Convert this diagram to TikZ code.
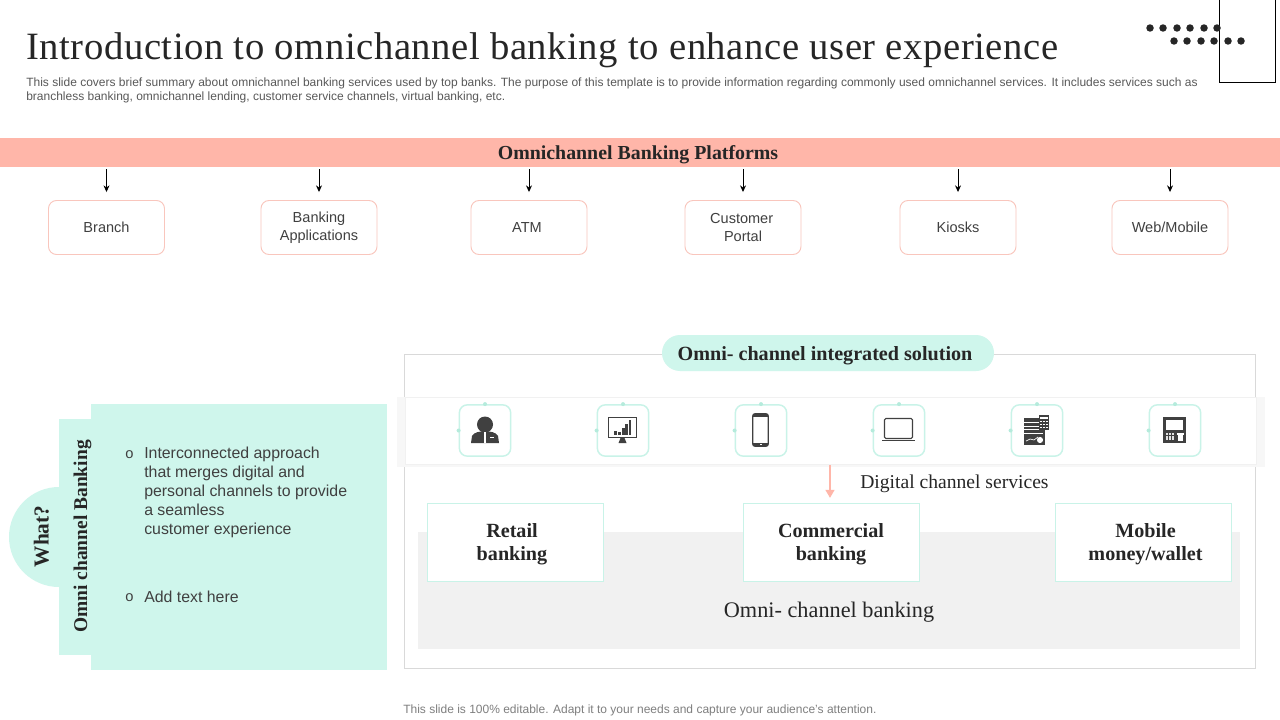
\documentclass[tikz,border=0pt]{standalone}
\usepackage{fontspec}
\setmainfont{Liberation Sans}
\newfontfamily\serifx{Liberation Serif}
\newfontfamily\titlefont[LetterSpace=1.45]{Liberation Serif}
\usetikzlibrary{arrows.meta}
\definecolor{mint}{HTML}{CFF6EC}
\definecolor{mintline}{HTML}{C9F3E8}
\definecolor{mintdot}{HTML}{B5EBDC}
\definecolor{peach}{HTML}{FFB6A9}
\definecolor{peachline}{HTML}{F9C6BD}
\definecolor{ink}{HTML}{404040}
\definecolor{introgray}{HTML}{595959}
\definecolor{dark}{HTML}{262626}
\definecolor{softgray}{HTML}{F1F1F1}
\definecolor{framegray}{HTML}{D9D9D9}
\definecolor{shadowgray}{HTML}{F7F7F7}
\definecolor{notegray}{HTML}{7F7F7F}
\newcommand{\bankstrut}{\rule{0pt}{13.5pt}}
\tikzset{
  x=0.75pt,y=-0.75pt,
  platform/.style={draw=peachline,line width=0.7pt,rounded corners=6pt,fill=white,minimum width=87pt,minimum height=40.5pt,inner sep=0pt,align=center,text=ink,font=\fontsize{10.9}{13.5}\selectfont},
  iconbox/.style={draw=mintline,line width=1.1pt,rounded corners=6pt,fill=white,minimum width=38.5pt,minimum height=38.5pt,inner sep=0pt},
  bankbox/.style={draw=mintline,line width=0.6pt,fill=white,minimum width=132pt,minimum height=58.5pt,inner sep=0pt,align=center,text=dark,font=\serifx\bfseries\fontsize{15.1}{17.2}\selectfont},
  downarrow/.style={-{Stealth[length=5pt,width=4.5pt]},line width=0.75pt,black},
}
\begin{document}
\begin{tikzpicture}
\useasboundingbox (0,0) rectangle (1280,720);
\fill[white] (0,0) rectangle (1280,720);
% corner decoration
\draw[black,line width=0.6pt] (1219,-2) -- (1219,82) -- (1275.5,82) -- (1275.5,-2);
\foreach \px in {1150,1163,1177,1190,1204,1217} \fill[dark] (\px,28) circle (2.8pt);
\foreach \px in {1174,1187,1201,1214,1228,1241} \fill[dark] (\px,41) circle (2.8pt);
% title
\node[anchor=west,inner sep=0pt,text=dark,font=\titlefont\fontsize{29}{32}\selectfont] (title) at (26,50) {Introduction to omnichannel banking to enhance user experience};
\node[anchor=north west,inner sep=0pt,align=left,text=introgray,font=\fontsize{9}{10.5}\selectfont] (intro) at (26,77.5) {This slide covers brief summary about omnichannel banking services used by top banks. The purpose of this template is to provide information regarding commonly used omnichannel services. It includes services such as\\branchless banking, omnichannel lending, customer service channels, virtual banking, etc.};
% platforms
\node[fill=peach,minimum width=960pt,minimum height=21.75pt,inner sep=0pt] (band) at (640,152.5) {};
\node[inner sep=0pt,text=dark,font=\serifx\bfseries\fontsize{14.9}{17}\selectfont] (bandtext) at (638,155) {Omnichannel Banking Platforms};
\node[platform] (p1) at (106.5,227.5) {Branch};
\node[platform] (p2) at (319,227.5) {Banking\\Applications};
\node[platform] (p3) at (529,227.5) {ATM\hspace*{3pt}};
\node[platform] (p4) at (743,227.5) {Customer\hspace*{2pt}\\Portal};
\node[platform] (p5) at (958,227.5) {Kiosks};
\node[platform] (p6) at (1170,227.5) {Web/Mobile};
\foreach \n in {1,...,6} {
  \coordinate (s\n) at (band.south -| p\n);
  \draw[downarrow] ([yshift=-1.5pt]s\n) -- ([yshift=6pt]p\n.north);
}
% integrated solution frame
\node[draw=framegray,line width=0.75pt,fill=white,minimum width=638pt,minimum height=235.5pt,inner sep=0pt] (frame) at (829.75,511) {};
\fill[shadowgray] (397,397) rectangle (1265,467);
\node[fill=white,draw=softgray,line width=0.5pt,minimum width=638.25pt,minimum height=50.5pt,inner sep=0pt] (strip) at (830.5,431) {};
\node[fill=mint,rounded corners=13.5pt,minimum width=249pt,minimum height=27pt,inner sep=0pt] (pill) at (828,353) {};
\node[inner sep=0pt,text=dark,font=\serifx\bfseries\fontsize{15.1}{17}\selectfont] (pilltext) at (825,356) {Omni- channel integrated solution};
% grey banking area
\node[fill=softgray,minimum width=616.5pt,minimum height=87.75pt,inner sep=0pt] (area) at (829,590.5) {};
\node[inner sep=0pt,text=dark,font=\serifx\fontsize{16.7}{19}\selectfont] (arealabel) at (829,612) {Omni- channel banking};
\node[bankbox] (b1) at (515,542) {\bankstrut Retail\hspace*{4.5pt}\\banking\hspace*{4.5pt}};
\node[bankbox] (b2) at (831,542) {\bankstrut Commercial\\banking};
\node[bankbox] (b3) at (1143.5,542) {\bankstrut\hspace*{3pt}Mobile\\\hspace*{3pt}money/wallet};
\draw[-{Triangle[length=6pt,width=6.5pt]},peach,line width=2.2pt] (strip.south -| b2) ++(-1,0) -- ([xshift=-0.75pt,yshift=3.5pt]b2.north);
\node[anchor=west,inner sep=0pt,text=dark,font=\serifx\fontsize{14.7}{17}\selectfont] (digital) at (860,483.5) {Digital channel services};
% icon boxes
\foreach \n/\cx in {1/485,2/623,3/761,4/899,5/1037,6/1175} {
  \node[iconbox] (i\n) at (\cx,430.5) {};
  \fill[mintdot] (i\n.north) circle (1.5pt);
  \fill[mintdot] (i\n.west) circle (1.5pt);
}
% person
\fill[ink] (485,424.5) circle (6pt);
\fill[ink] (471,443) -- (472,436) .. controls (474,432) and (480,431.5) .. (485,431) .. controls (490,431.5) and (496,432) .. (498,436) -- (499,443) -- cycle;
\fill[white] (484.2,432) -- (485.8,432) -- (486,443) -- (484,443) -- cycle;
\fill[white] (489.5,437) rectangle (494,438);
% presentation
\draw[ink,line width=0.6pt,fill=white] (608.5,417.5) rectangle (636.5,437);
\draw[ink,line width=0.9pt] (608.5,437.5) -- (636.5,437.5);
\fill[ink] (614,431) rectangle (617,434.5);
\fill[ink] (618,432) rectangle (621,434.5);
\fill[ink] (621.5,428) rectangle (624.5,434.5);
\fill[ink] (625,424) rectangle (628,434.5);
\fill[ink] (628.5,420) rectangle (631,434.5);
\fill[ink] (620.5,438) -- (624.5,438) -- (626.5,443) -- (618.5,443) -- cycle;
% phone
\draw[ink,line width=0.9pt,fill=white,rounded corners=1.5pt] (752.8,413.8) rectangle (768.2,446.2);
\fill[ink] (752.8,413.8) rectangle (768.2,416.8);
\fill[ink] (752.8,443) rectangle (768.2,446.2);
\fill[white] (759.5,444) rectangle (761.5,445.4);
% laptop
\draw[ink,line width=0.8pt,fill=white,rounded corners=1pt] (884.5,418.5) rectangle (912.5,438.5);
\fill[ink] (882,439.5) rectangle (915,441);
% statement + calculator
\fill[ink] (1024,418) rectangle (1045,444.5);
\foreach \ry in {422,425.5,429,432.5} \fill[white] (1024,\ry) rectangle (1043,\ry+0.7);
\draw[white,line width=0.5pt] (1026,441) -- (1030,439) -- (1034,440) -- (1038,437);
\fill[white] (1040,440) circle (2.3pt);
\fill[ink] (1038.5,415) rectangle (1049,430);
\fill[white] (1040,416.5) rectangle (1047.5,418.5);
\foreach \ry in {420.5,423.5,426.5} \foreach \rx in {1040,1043,1046} \fill[white] (\rx,\ry) rectangle (\rx+1.6,\ry+1.6);
% ATM
\fill[ink] (1163,417) rectangle (1186,443);
\fill[white] (1166,420) rectangle (1183,430);
\fill[white] (1177,433) rectangle (1184,435);
\fill[white] (1178,435) rectangle (1183,440.5);
\foreach \ry in {433,435.7,438.3} \foreach \rx in {1166,1169,1172} \fill[white!85!ink] (\rx,\ry) rectangle (\rx+2,\ry+1.8);
% left panel
\fill[mint] (59,537) circle (37.5pt);
\node[fill=mint,minimum width=222pt,minimum height=199.5pt,inner sep=0pt] (panel) at (239,537) {};
\node[fill=mint,minimum width=24pt,minimum height=177pt,inner sep=0pt] (tab) at (75,537) {};
\node[rotate=90,inner sep=0pt,text=dark,font=\serifx\bfseries\fontsize{14.6}{17}\selectfont] (tabtext) at (82.5,536.5) {Omni channel Banking};
\node[rotate=90,inner sep=0pt,text=dark,font=\serifx\bfseries\fontsize{16}{18}\selectfont] (what) at (41.5,536.5) {What?};
\node[anchor=north west,inner sep=0pt,text=ink,font=\fontsize{11}{12}\selectfont] (bul1) at (125,450) {o};
\node[anchor=north west,inner sep=0pt,align=left,text=ink,font=\fontsize{11.9}{14.25}\selectfont] (txt1) at (144,447) {Interconnected approach\\that merges digital and\\personal channels to provide\\a seamless\\customer experience};
\node[anchor=north west,inner sep=0pt,text=ink,font=\fontsize{11}{12}\selectfont] (bul2) at (125,593) {o};
\node[anchor=north west,inner sep=0pt,text=ink,font=\fontsize{11.9}{14.25}\selectfont] (txt2) at (144,591) {Add text here};
% footer
\node[anchor=west,inner sep=0pt,text=notegray,font=\fontsize{9}{11}\selectfont] (foot) at (403,710) {This slide is 100\% editable. Adapt it to your needs and capture your audience's attention.};
\end{tikzpicture}
\end{document}
